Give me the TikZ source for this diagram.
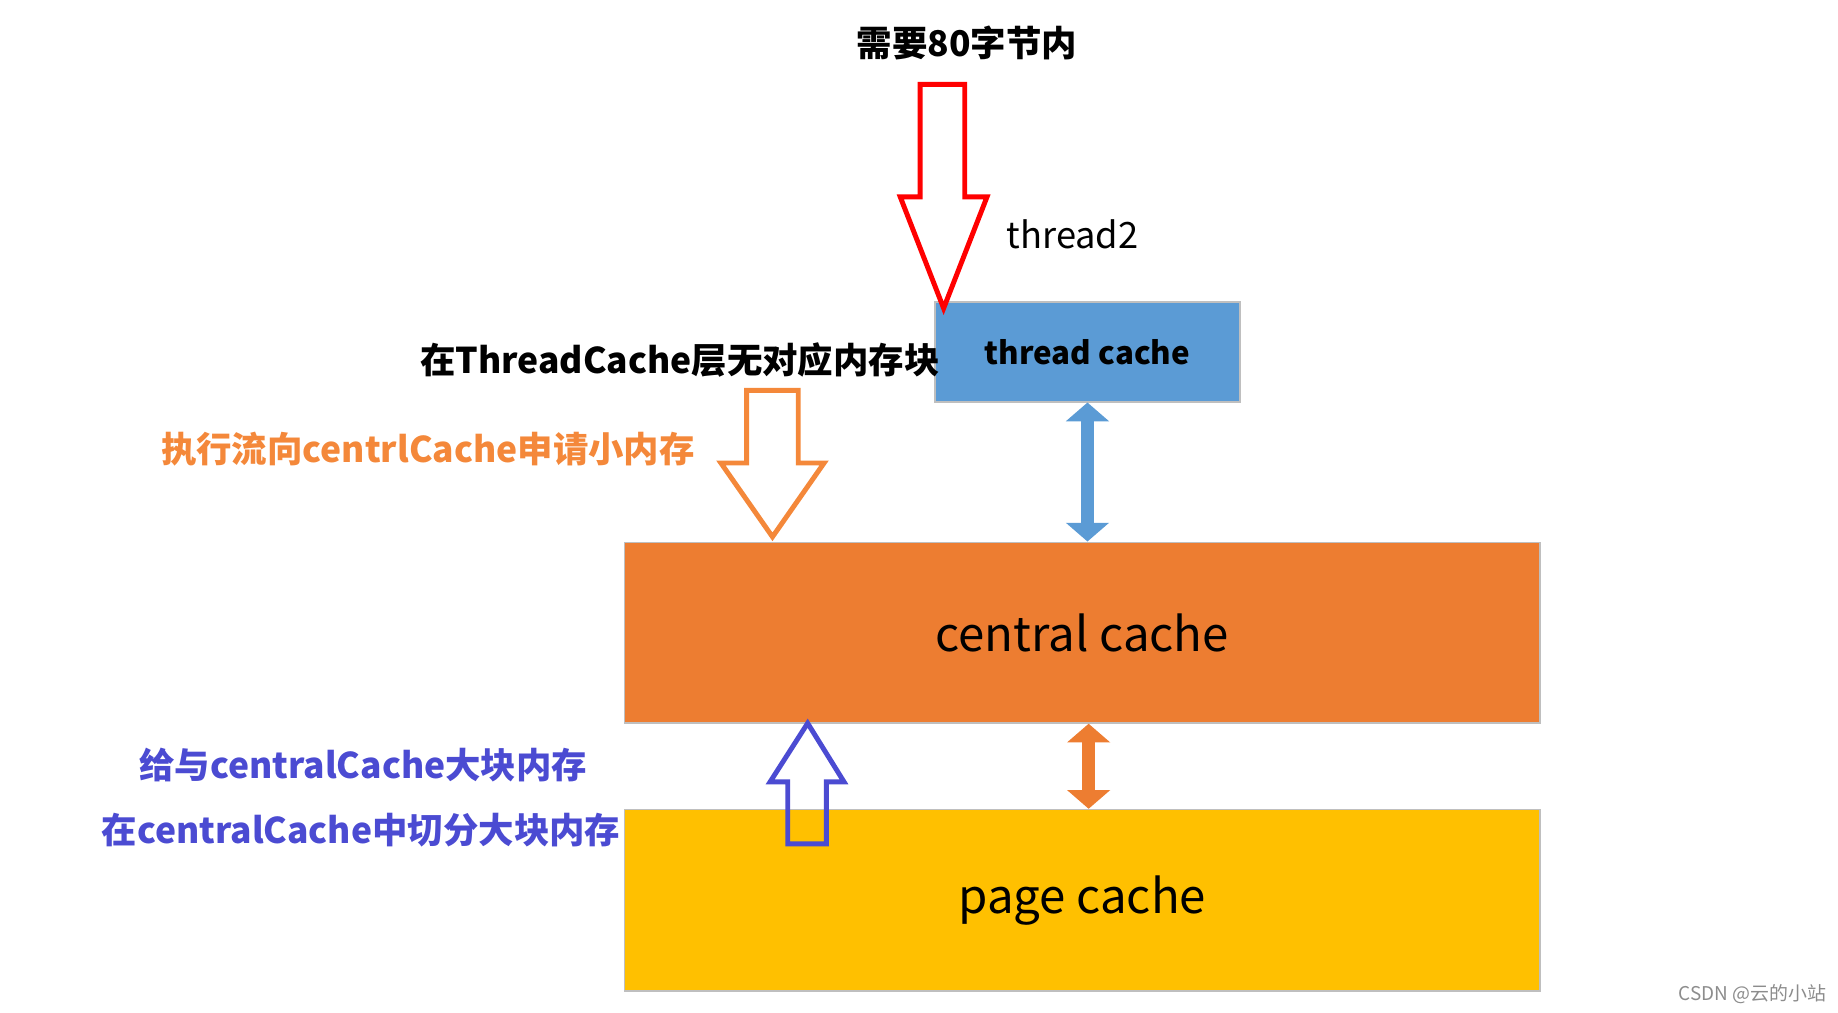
\documentclass[tikz,border=0pt]{standalone}
\usepackage{fontspec}
\setmainfont{Noto Sans CJK SC}
\usetikzlibrary{arrows.meta}
\definecolor{tcblue}{HTML}{5B9BD5}
\definecolor{ccorange}{HTML}{ED7D31}
\definecolor{pcyellow}{HTML}{FFC000}
\definecolor{txtorange}{HTML}{F4883A}
\definecolor{txtblue}{HTML}{4B4BD2}
\tikzset{
  cachebox/.style={draw=black!25, line width=0.4pt},
  hollow/.style={line width=1.2pt, fill=white, line join=miter},
  dblarrow/.style={line width=0.11cm, {Triangle[width=0.36cm,length=0.16cm]}-{Triangle[width=0.36cm,length=0.16cm]}, shorten >=0pt, shorten <=0pt},
  lbl/.style={inner sep=0pt, font=\fontsize{8.6}{10}\selectfont\bfseries}
}
\begin{document}
\begin{tikzpicture}
\useasboundingbox (0,0) rectangle (15.68,8.634);
% boxes
\node[cachebox, fill=tcblue, minimum width=2.6cm, minimum height=0.85cm, anchor=north west,
  font=\fontsize{7.6}{9}\selectfont\bfseries] (tc) at (7.97,6.064) {thread cache};
\node[cachebox, fill=ccorange, minimum width=7.81cm, minimum height=1.54cm, anchor=north west,
  font=\fontsize{11.5}{13}\selectfont] (cc) at (5.32,4.014) {central cache};
\node[cachebox, fill=pcyellow, minimum width=7.81cm, minimum height=1.55cm, anchor=north west,
  font=\fontsize{11.5}{13}\selectfont] (pc) at (5.32,1.734) {page cache};
% labels
\node[lbl] (need) at (8.25,8.264) {需要80字节内};
\node[inner sep=0pt, font=\fontsize{8.8}{10}\selectfont] (t2) at (9.15,6.634) {thread2};
\node[lbl] (miss) at (5.80,5.564) {在ThreadCache层无对应内存块};
\node[lbl, text=txtorange] (flow) at (3.65,4.804) {执行流向centrlCache申请小内存};
\node[lbl, text=txtblue] (give) at (3.10,2.104) {给与centralCache大块内存};
\node[lbl, text=txtblue] (cut) at (3.08,1.554) {在centralCache中切分大块内存};
\node[inner sep=0pt, anchor=south, text=black!45, font=\fontsize{4.6}{5}\selectfont] (csdn) at (14.95,0.06) {CSDN @云的小站};
% hollow arrows
\draw[hollow, draw=red] (7.85,7.914) -- (8.23,7.914) -- (8.23,6.954) -- (8.42,6.954) -- (8.05,6.004)
  -- (7.68,6.954) -- (7.85,6.954) -- cycle;
\draw[hollow, draw=txtorange] (6.37,5.304) -- (6.81,5.304) -- (6.81,4.684) -- (7.03,4.684) -- (6.59,4.054)
  -- (6.15,4.684) -- (6.37,4.684) -- cycle;
\draw[hollow, draw=txtblue, fill=none] (6.72,1.434) -- (7.05,1.434) -- (7.05,1.964) -- (7.20,1.964) -- (6.89,2.464)
  -- (6.57,1.964) -- (6.72,1.964) -- cycle;
% double arrows
\draw[dblarrow, tcblue] (tc.south) -- (tc.south |- cc.north);
\draw[dblarrow, ccorange] ([xshift=0.01cm]tc.south |- cc.south) -- ([xshift=0.01cm]tc.south |- pc.north);
\end{tikzpicture}
\end{document}
